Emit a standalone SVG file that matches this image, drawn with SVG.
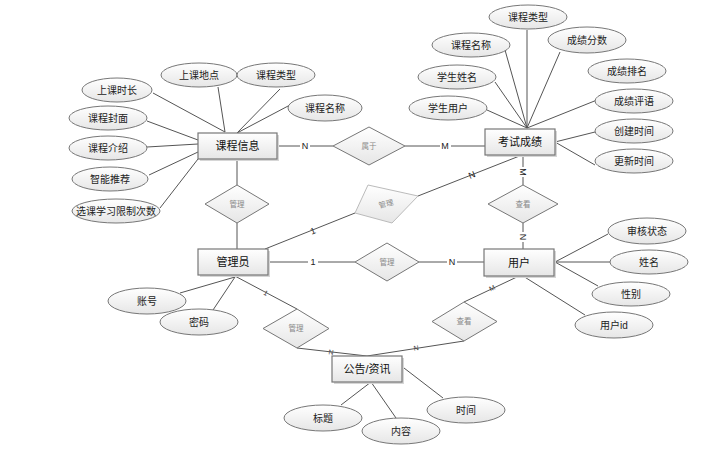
<svg xmlns="http://www.w3.org/2000/svg" width="710" height="459" viewBox="0 0 710 459">
<defs>
<linearGradient id="g" x1="0" y1="0" x2="0" y2="1"><stop offset="0" stop-color="#ffffff"/><stop offset="1" stop-color="#e6e6e6"/></linearGradient>
<style>
.ent{fill:url(#g);stroke:#777;stroke-width:1.2}
.att{fill:url(#g);stroke:#777;stroke-width:1}
.rel{fill:url(#g);stroke:#777;stroke-width:1}
.rel2{fill:url(#g);stroke:#bbb;stroke-width:1}
.et{font-family:"Liberation Sans","Noto Sans CJK SC",sans-serif;font-size:11px;fill:#111;text-anchor:middle;dominant-baseline:central}
.at{font-family:"Liberation Sans","Noto Sans CJK SC",sans-serif;font-size:10px;fill:#222;text-anchor:middle;dominant-baseline:central}
.rt{font-family:"Liberation Sans","Noto Sans CJK SC",sans-serif;font-size:7.5px;fill:#888;text-anchor:middle;dominant-baseline:central}
.lt{font-family:"Liberation Sans","Noto Sans CJK SC",sans-serif;font-size:9px;fill:#222;text-anchor:middle;dominant-baseline:central}
.ls{font-family:"Liberation Sans","Noto Sans CJK SC",sans-serif;font-size:7px;fill:#444;text-anchor:middle;dominant-baseline:central}
.c line{stroke:#555;stroke-width:1}
.sh{fill:#d6d6d6}
</style>
</defs>
<rect width="710" height="459" fill="#fff"/>
<g class="c" id="connectors">
<line x1="153" y1="93" x2="225" y2="132"/>
<line x1="218" y1="87" x2="225" y2="132"/>
<line x1="280" y1="89" x2="237" y2="133"/>
<line x1="290" y1="105" x2="237" y2="133"/>
<line x1="147" y1="121" x2="198" y2="140"/>
<line x1="147" y1="147" x2="198" y2="144"/>
<line x1="149" y1="175" x2="198" y2="152"/>
<line x1="160" y1="208" x2="198" y2="159"/>
<line x1="527" y1="30" x2="527" y2="128"/>
<line x1="505" y1="50" x2="527" y2="128"/>
<line x1="560" y1="52" x2="527" y2="128"/>
<line x1="495" y1="82" x2="527" y2="128"/>
<line x1="487" y1="110" x2="527" y2="128"/>
<line x1="597" y1="100" x2="527" y2="128"/>
<line x1="595" y1="132" x2="555" y2="142"/>
<line x1="595" y1="165" x2="555" y2="142"/>
<line x1="608" y1="234" x2="555" y2="262"/>
<line x1="610" y1="262" x2="555" y2="262"/>
<line x1="598" y1="286" x2="555" y2="262"/>
<line x1="585" y1="315" x2="523" y2="276"/>
<line x1="180" y1="293" x2="235" y2="277"/>
<line x1="213" y1="310" x2="235" y2="277"/>
<line x1="341" y1="405" x2="371" y2="382"/>
<line x1="396" y1="418" x2="371" y2="382"/>
<line x1="443" y1="398" x2="404" y2="368"/>
<line x1="277" y1="146" x2="333" y2="146"/>
<line x1="405" y1="146" x2="485" y2="146"/>
<line x1="237" y1="159" x2="237" y2="185"/>
<line x1="237" y1="223" x2="237" y2="249"/>
<line x1="265" y1="249" x2="355" y2="213"/>
<line x1="418" y1="196" x2="522" y2="155"/>
<line x1="268" y1="262" x2="355" y2="262"/>
<line x1="419" y1="262" x2="484" y2="262"/>
<line x1="523" y1="155" x2="523" y2="185"/>
<line x1="523" y1="223" x2="523" y2="249"/>
<line x1="233" y1="275" x2="297" y2="309"/>
<line x1="297" y1="348" x2="367" y2="356"/>
<line x1="367" y1="356" x2="464" y2="341"/>
<line x1="464" y1="302" x2="519" y2="276"/>
<g>
<rect x="300" y="141" width="10" height="10" fill="#fff"/><text class="lt" x="305" y="146">N</text>
<rect x="440" y="141" width="11" height="10" fill="#fff"/><text class="lt" x="445" y="146">M</text>
<text class="lt" x="313" y="231" transform="rotate(-22 313 231)">1</text>
<text class="lt" x="472" y="175" transform="rotate(-22 472 175)">N</text>
<rect x="308" y="257" width="10" height="10" fill="#fff"/><text class="lt" x="313" y="262">1</text>
<rect x="447" y="257" width="10" height="10" fill="#fff"/><text class="lt" x="452" y="262">N</text>
<rect x="518" y="167" width="10" height="10" fill="#fff"/><text class="lt" x="523" y="172" transform="rotate(90 523 172)">M</text>
<rect x="518" y="232" width="10" height="10" fill="#fff"/><text class="lt" x="523" y="237" transform="rotate(90 523 237)">N</text>
<text class="ls" x="266" y="293" transform="rotate(28 266 293)">1</text>
<text class="ls" x="331" y="352" transform="rotate(7 331 352)">N</text>
<text class="ls" x="416" y="348" transform="rotate(-9 416 348)">N</text>
<text class="ls" x="492" y="288" transform="rotate(-25 492 288)">M</text>
</g>
</g>
<g id="e-kcxx"><rect class="sh" x="200" y="135" width="79" height="26"/><rect class="ent" x="198" y="133" width="79" height="26"/><text class="et" x="237.5" y="146">课程信息</text></g>
<g id="e-kscj"><rect class="sh" x="487" y="131" width="70" height="26"/><rect class="ent" x="485" y="129" width="70" height="26"/><text class="et" x="520" y="142">考试成绩</text></g>
<g id="e-gly"><rect class="sh" x="200" y="251" width="70" height="26"/><rect class="ent" x="198" y="249" width="70" height="26"/><text class="et" x="233" y="262">管理员</text></g>
<g id="e-yh"><rect class="sh" x="486" y="251" width="70" height="27"/><rect class="ent" x="484" y="249" width="70" height="27"/><text class="et" x="519" y="262.5">用户</text></g>
<g id="e-gg"><rect class="sh" x="334" y="358" width="70" height="26"/><rect class="ent" x="332" y="356" width="70" height="26"/><text class="et" x="367" y="369">公告/资讯</text></g>
<g id="r-sy"><polygon class="rel" points="369,127 405,146 369,165 333,146"/><text class="rt" x="369" y="146">属于</text></g>
<g id="r-gl1"><polygon class="rel" points="237,185 269,204 237,223 205,204"/><text class="rt" x="237" y="204">管理</text></g>
<g id="r-gl2"><polygon class="rel2" points="368,185 418,196 392,223 355,213"/><text class="rt" x="386" y="204" transform="rotate(-15 386 204)">管理</text></g>
<g id="r-gl3"><polygon class="rel" points="387,243 419,262 387,281 355,262"/><text class="rt" x="387" y="262">管理</text></g>
<g id="r-ck1"><polygon class="rel" points="523,185 558,204 523,223 488,204"/><text class="rt" x="523" y="204">查看</text></g>
<g id="r-gl4"><polygon class="rel" points="297,309 329,328.5 297,348 263,328.5"/><text class="rt" x="296" y="328.5">管理</text></g>
<g id="r-ck2"><polygon class="rel" points="464,302 497,321.5 464,341 432,321.5"/><text class="rt" x="464" y="321.5">查看</text></g>
<g id="a-sksc"><ellipse class="att" cx="117" cy="90" rx="35" ry="12"/><text class="at" x="117" y="90">上课时长</text></g>
<g id="a-kcfm"><ellipse class="att" cx="108" cy="118" rx="39" ry="12"/><text class="at" x="108" y="118">课程封面</text></g>
<g id="a-kcjs"><ellipse class="att" cx="108" cy="148" rx="39" ry="12"/><text class="at" x="108" y="148">课程介绍</text></g>
<g id="a-zntj"><ellipse class="att" cx="110" cy="179" rx="38" ry="12"/><text class="at" x="110" y="179">智能推荐</text></g>
<g id="a-xkxx"><ellipse class="att" cx="116" cy="211" rx="44" ry="12"/><text class="at" x="116" y="211">选课学习限制次数</text></g>
<g id="a-skdd"><ellipse class="att" cx="199" cy="75" rx="38" ry="12"/><text class="at" x="199" y="75">上课地点</text></g>
<g id="a-kclx1"><ellipse class="att" cx="276" cy="75" rx="39" ry="12"/><text class="at" x="276" y="75">课程类型</text></g>
<g id="a-kcmc1"><ellipse class="att" cx="325" cy="108" rx="37" ry="13"/><text class="at" x="325" y="108">课程名称</text></g>
<g id="a-kclx2"><ellipse class="att" cx="528" cy="17" rx="39" ry="12"/><text class="at" x="528" y="17">课程类型</text></g>
<g id="a-kcmc2"><ellipse class="att" cx="471" cy="45" rx="39" ry="12"/><text class="at" x="471" y="45">课程名称</text></g>
<g id="a-cjfs"><ellipse class="att" cx="587" cy="40" rx="39" ry="13"/><text class="at" x="587" y="40">成绩分数</text></g>
<g id="a-xsxm"><ellipse class="att" cx="457" cy="77" rx="39" ry="12"/><text class="at" x="457" y="77">学生姓名</text></g>
<g id="a-cjpm"><ellipse class="att" cx="627" cy="71" rx="39" ry="12"/><text class="at" x="627" y="71">成绩排名</text></g>
<g id="a-xsyh"><ellipse class="att" cx="448" cy="108" rx="39" ry="12"/><text class="at" x="448" y="108">学生用户</text></g>
<g id="a-cjpy"><ellipse class="att" cx="634" cy="101" rx="39" ry="12"/><text class="at" x="634" y="101">成绩评语</text></g>
<g id="a-cjsj"><ellipse class="att" cx="634" cy="131" rx="39" ry="12"/><text class="at" x="634" y="131">创建时间</text></g>
<g id="a-gxsj"><ellipse class="att" cx="634" cy="161" rx="39" ry="12"/><text class="at" x="634" y="161">更新时间</text></g>
<g id="a-shzt"><ellipse class="att" cx="647" cy="231" rx="39" ry="13"/><text class="at" x="647" y="231">审核状态</text></g>
<g id="a-xm"><ellipse class="att" cx="649" cy="262" rx="39" ry="12"/><text class="at" x="649" y="262">姓名</text></g>
<g id="a-xb"><ellipse class="att" cx="631" cy="294" rx="39" ry="12"/><text class="at" x="631" y="294">性别</text></g>
<g id="a-yhid"><ellipse class="att" cx="614" cy="325" rx="39" ry="13"/><text class="at" x="614" y="325">用户id</text></g>
<g id="a-zh"><ellipse class="att" cx="147" cy="301" rx="39" ry="13"/><text class="at" x="147" y="301">账号</text></g>
<g id="a-mm"><ellipse class="att" cx="199" cy="322" rx="39" ry="13"/><text class="at" x="199" y="322">密码</text></g>
<g id="a-bt"><ellipse class="att" cx="323" cy="418" rx="39" ry="13"/><text class="at" x="323" y="418">标题</text></g>
<g id="a-nr"><ellipse class="att" cx="401" cy="431" rx="39" ry="13"/><text class="at" x="401" y="431">内容</text></g>
<g id="a-sj"><ellipse class="att" cx="466" cy="410" rx="39" ry="13"/><text class="at" x="466" y="410">时间</text></g>
</svg>
